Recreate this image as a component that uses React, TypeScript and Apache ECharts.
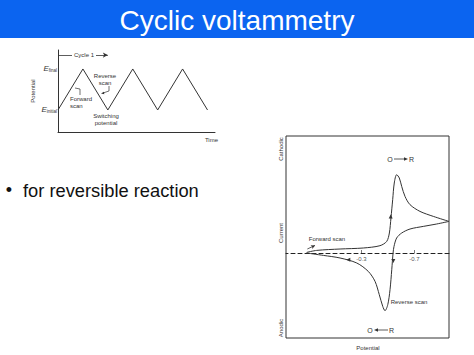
import React, { useEffect, useRef } from "react";
import * as echarts from "echarts";

// Top-left: triangular potential waveform
const timeSteps = [0, 1, 2, 3, 4, 5, 6];
const waveformPotential = [0, 1, 0, 1, 0, 1, 0];
const levelLabels = ["initial", "final"];
const levelValues = [0, 1];

// Right: cyclic voltammogram (potential in V, current in arbitrary units)
const forwardPotential = [0.114, 0.038, -0.138, -0.313, -0.439, -0.49, -0.51, -0.522, -0.535, -0.547, -0.565, -0.585, -0.603, -0.628, -0.666, -0.741, -0.842, -0.96];
const forwardCurrent = [0.06, 0.26, 0.4, 0.5, 0.73, 1.16, 2.0, 3.5, 5.33, 7.0, 7.83, 7.5, 6.66, 5.66, 4.83, 4.16, 3.66, 3.16];
const reversePotential = [-0.96, -0.867, -0.766, -0.666, -0.603, -0.565, -0.545, -0.538, -0.528, -0.515, -0.498, -0.477, -0.46, -0.434, -0.402, -0.351, -0.264, -0.138, -0.012, 0.114];
const reverseCurrent = [3.16, 2.9, 2.66, 2.4, 2.0, 1.5, 0.66, 0, -1.67, -3.67, -5.17, -5.77, -5.34, -4.17, -2.84, -1.84, -1.0, -0.5, -0.24, 0];
const potentialTicks = [-0.3, -0.7];

const INK = "#333";
const FONT = "'Liberation Sans', Arial, sans-serif";

export default function App() {
  const ref = useRef<HTMLDivElement>(null);
  useEffect(() => {
    if (!ref.current) return;
    const chart = echarts.init(ref.current, undefined, { renderer: "svg" });
    const small = { fontFamily: FONT, fontSize: 6, fill: INK };
    chart.setOption({
      animation: false,
      backgroundColor: "#fff",
      textStyle: { fontFamily: FONT },
      grid: [
        { left: 58, top: 50, width: 157, height: 82 },
        { left: 286, top: 136, width: 163, height: 202, show: true, borderColor: INK, borderWidth: 1, backgroundColor: "transparent" },
      ],
      xAxis: [
        {
          gridIndex: 0, type: "value", min: 0, max: 6.3,
          axisLine: { show: true, onZero: false, lineStyle: { color: INK, width: 1 } },
          axisTick: { show: false }, axisLabel: { show: false }, splitLine: { show: false },
          name: "Time", nameLocation: "end", nameGap: 3,
          nameTextStyle: { fontSize: 6, color: INK, align: "right", verticalAlign: "top", padding: [5, 0, 0, 0] },
        },
        {
          gridIndex: 1, type: "value", min: -0.96, max: 0.27, inverse: true,
          axisLine: { show: true, onZero: true, lineStyle: { color: "#222", width: 1, type: [4, 3] } },
          axisTick: { show: false }, axisLabel: { show: false },
          splitLine: { show: false },
        },
      ],
      yAxis: [
        {
          gridIndex: 0, type: "value", min: -0.537, max: 1.463,
          axisLine: { show: true, onZero: false, lineStyle: { color: INK, width: 1 } },
          axisTick: { show: false }, splitLine: { show: false },
          axisLabel: {
            show: true, customValues: levelValues, margin: 1,
            formatter: (v: number) => `{e|E}{s|${levelLabels[levelValues.indexOf(v)]}}`,
            rich: {
              e: { fontSize: 8, fontStyle: "italic", color: INK, fontFamily: FONT },
              s: { fontSize: 4.5, color: INK, fontFamily: FONT, padding: [4, 0, 0, 0] },
            },
          },
          name: "Potential", nameLocation: "middle", nameGap: 22,
          nameTextStyle: { fontSize: 6, color: INK },
        },
        {
          gridIndex: 1, type: "value", min: -8.5, max: 11.7,
          axisLine: { show: false }, axisTick: { show: false }, axisLabel: { show: false }, splitLine: { show: false },
        },
      ],
      series: [
        {
          type: "line", xAxisIndex: 0, yAxisIndex: 0, symbol: "none",
          data: timeSteps.map((t, i) => [t, waveformPotential[i]]),
          lineStyle: { color: INK, width: 1 },
          markLine: {
            silent: true, symbol: ["none", "arrow"], symbolSize: [4, 5],
            lineStyle: { color: INK, width: 0.8, type: "solid" },
            label: { show: false },
            data: [[{ coord: [0, 1.34] }, { coord: [2, 1.34] }]],
          },
        },
        {
          type: "line", xAxisIndex: 1, yAxisIndex: 1, symbol: "none", smooth: 0.3,
          data: forwardPotential.map((p, i) => [p, forwardCurrent[i]]),
          lineStyle: { color: INK, width: 1 },
          markPoint: {
            silent: true, symbol: "triangle", symbolSize: 4, itemStyle: { color: INK }, label: { show: false },
            data: [{ coord: [-0.52, 3.66], symbolRotate: 0 }],
          },
          markLine: {
            silent: true, symbol: ["none", "arrow"], symbolSize: [3, 4],
            lineStyle: { color: INK, width: 0.8, type: "solid" }, label: { show: false },
            data: [[{ coord: [0.109, 0.4] }, { coord: [0.051, 0.76] }]],
          },
        },
        {
          type: "line", xAxisIndex: 1, yAxisIndex: 1, symbol: "none", smooth: 0.3,
          data: reversePotential.map((p, i) => [p, reverseCurrent[i]]),
          lineStyle: { color: INK, width: 1 },
          markPoint: {
            silent: true, symbol: "triangle", symbolSize: 4, itemStyle: { color: INK }, label: { show: false },
            data: [
              { coord: [-0.2, -0.67], symbolRotate: 90 },
              { coord: [-0.54, -0.8], symbolRotate: 180 },
            ],
          },
        },
        {
          // potential tick marks and labels sitting on the dashed zero line
          type: "scatter", xAxisIndex: 1, yAxisIndex: 1, silent: true,
          data: potentialTicks.map((v) => [v, 0]),
          symbol: "rect", symbolSize: [0.8, 3], symbolOffset: [0, -1.5],
          itemStyle: { color: INK },
          label: { show: true, position: "bottom", distance: 3, fontSize: 6, color: "#222", textBorderWidth: 0, fontFamily: FONT, formatter: (p: any) => String(p.value[0]) },
        },
      ],
      graphic: [
        { type: "rect", left: 0, top: 0, shape: { x: 0, y: 0, width: 474, height: 38 }, style: { fill: "#0b64f0" }, silent: true },
        { type: "text", x: 237, y: 20, style: { text: "Cyclic voltammetry", fill: "#fff", fontFamily: FONT, fontSize: 28, align: "center", verticalAlign: "middle" } },
        { type: "text", x: 9, y: 190, style: { text: "•", fill: "#111", fontFamily: FONT, fontSize: 18, align: "center", verticalAlign: "middle" } },
        { type: "text", x: 23, y: 190, style: { text: "for reversible reaction", fill: "#111", fontFamily: FONT, fontSize: 18.3, align: "left", verticalAlign: "middle" } },

        // left diagram annotations
        { type: "rect", z: 100, shape: { x: 72, y: 51, width: 24, height: 8 }, style: { fill: "#fff" } },
        { type: "text", z: 101, x: 84, y: 55, style: { ...small, text: "Cycle 1", align: "center", verticalAlign: "middle" } },
        { type: "text", x: 105, y: 79.5, style: { ...small, text: "Reverse\nscan", align: "center", verticalAlign: "middle", lineHeight: 7 } },
        { type: "polyline", shape: { points: [[109, 86], [109, 91], [103, 93]] }, style: { stroke: INK, lineWidth: 0.7, fill: "none" } },
        { type: "polygon", shape: { points: [[101, 93.6], [104, 91.8], [104.3, 94.3]] }, style: { fill: INK } },
        { type: "text", x: 70, y: 102.5, style: { ...small, text: "Forward\nscan", align: "left", verticalAlign: "middle", lineHeight: 7 } },
        { type: "polyline", shape: { points: [[80, 95], [80, 89], [75, 88]] }, style: { stroke: INK, lineWidth: 0.7, fill: "none" } },
        { type: "text", x: 106, y: 119.5, style: { ...small, text: "Switching\npotential", align: "center", verticalAlign: "middle", lineHeight: 7 } },

        // right diagram annotations
        { type: "text", x: 280.5, y: 149, rotation: Math.PI / 2, style: { ...small, text: "Cathodic", align: "center", verticalAlign: "middle" } },
        { type: "text", x: 280.5, y: 233, rotation: Math.PI / 2, style: { ...small, text: "Current", align: "center", verticalAlign: "middle" } },
        { type: "text", x: 280.5, y: 328, rotation: Math.PI / 2, style: { ...small, text: "Anodic", align: "center", verticalAlign: "middle" } },
        { type: "text", x: 368, y: 348, style: { ...small, text: "Potential", align: "center", verticalAlign: "middle" } },
        { type: "text", x: 327, y: 239, style: { ...small, text: "Forward scan", align: "center", verticalAlign: "middle" } },
        { type: "text", x: 409, y: 302, style: { ...small, text: "Reverse scan", align: "center", verticalAlign: "middle" } },
        { type: "text", x: 390, y: 159, style: { ...small, fontSize: 7, text: "O", align: "center", verticalAlign: "middle" } },
        { type: "line", shape: { x1: 394, y1: 159, x2: 405, y2: 159 }, style: { stroke: INK, lineWidth: 0.8 } },
        { type: "polygon", shape: { points: [[408, 159], [404, 157.3], [404, 160.7]] }, style: { fill: INK } },
        { type: "text", x: 411.5, y: 159, style: { ...small, fontSize: 7, text: "R", align: "center", verticalAlign: "middle" } },
        { type: "text", x: 370, y: 330, style: { ...small, fontSize: 7, text: "O", align: "center", verticalAlign: "middle" } },
        { type: "line", shape: { x1: 377, y1: 330, x2: 388, y2: 330 }, style: { stroke: INK, lineWidth: 0.8 } },
        { type: "polygon", shape: { points: [[374, 330], [378, 328.3], [378, 331.7]] }, style: { fill: INK } },
        { type: "text", x: 391.5, y: 330, style: { ...small, fontSize: 7, text: "R", align: "center", verticalAlign: "middle" } },
      ],
    });
    return () => chart.dispose();
  }, []);
  return <div ref={ref} style={{ position: "absolute", left: 0, top: 0, width: 474, height: 355 }} />;
}
